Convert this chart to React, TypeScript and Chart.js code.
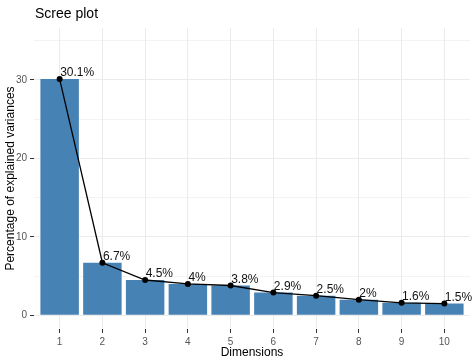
import React, { useEffect, useRef } from "react";
import { Chart, registerables } from "chart.js";

Chart.register(...registerables);

const dimensions = [1, 2, 3, 4, 5, 6, 7, 8, 9, 10];
const variances = [30.1, 6.7, 4.5, 4.0, 3.8, 2.9, 2.5, 2.0, 1.6, 1.5];
const valueLabels = ["30.1%", "6.7%", "4.5%", "4%", "3.8%", "2.9%", "2.5%", "2%", "1.6%", "1.5%"];
const yTicks = [0, 5, 10, 15, 20, 25, 30, 35];
const xTicks = [1, 2, 3, 4, 5, 6, 7, 8, 9, 10];

const FONT = "'Liberation Sans', Arial, Helvetica, sans-serif";

export default function App() {
  const ref = useRef<HTMLCanvasElement>(null);

  useEffect(() => {
    if (!ref.current) return;

    const titlePlugin = {
      id: "screeTitle",
      afterDraw(chart: any) {
        const ctx = chart.ctx;
        ctx.save();
        ctx.font = `14px ${FONT}`;
        ctx.fillStyle = "#000000";
        ctx.textAlign = "left";
        ctx.textBaseline = "middle";
        ctx.fillText("Scree plot", 35, 14);
        ctx.restore();
      },
    };

    const labelPlugin = {
      id: "pointLabels",
      afterDatasetsDraw(chart: any) {
        const meta = chart.getDatasetMeta(1);
        const ctx = chart.ctx;
        ctx.save();
        ctx.font = `12px ${FONT}`;
        ctx.fillStyle = "#111111";
        ctx.textAlign = "left";
        ctx.textBaseline = "alphabetic";
        meta.data.forEach((pt: any, i: number) => {
          ctx.fillText(valueLabels[i], pt.x + 0.5, pt.y - 3);
        });
        ctx.restore();
      },
    };

    const chart = new Chart(ref.current, {
      type: "bar",
      data: {
        datasets: [
          {
            type: "bar",
            data: dimensions.map((d, i) => ({ x: d, y: variances[i] })),
            backgroundColor: "#4682B4",
            borderWidth: 0,
            barPercentage: 0.9,
            categoryPercentage: 1,
            order: 2,
          } as any,
          {
            type: "line",
            data: dimensions.map((d, i) => ({ x: d, y: variances[i] })),
            borderColor: "#000000",
            borderWidth: 1.3,
            pointRadius: 3,
            pointBackgroundColor: "#000000",
            pointBorderColor: "#000000",
            pointBorderWidth: 0,
            tension: 0,
            order: 1,
          } as any,
        ],
      },
      plugins: [titlePlugin, labelPlugin],
      options: {
        animation: false,
        responsive: false,
        maintainAspectRatio: false,
        layout: { padding: { top: 28, right: 3, left: 0, bottom: 0 } },
        plugins: {
          legend: { display: false },
          tooltip: { enabled: false },
          title: { display: false },
        },
        scales: {
          x: {
            type: "linear",
            min: 0.4,
            max: 10.6,
            offset: false,
            afterBuildTicks(scale: any) {
              scale.ticks = xTicks.map((v) => ({ value: v }));
            },
            afterFit(scale: any) {
              scale.height = 33;
            },
            border: { display: false },
            grid: {
              offset: false,
              color: "#ebebeb",
              lineWidth: 1,
              drawTicks: true,
              tickLength: 4,
              tickColor: "#333333",
              tickWidth: 1,
            },
            ticks: {
              color: "#555555",
              font: { size: 10, family: FONT },
              padding: 3,
              maxRotation: 0,
              autoSkip: false,
              callback: (v: any) => String(v),
            },
            title: {
              display: true,
              text: "Dimensions",
              color: "#000000",
              font: { size: 12, family: FONT },
              padding: { top: 0, bottom: 2 },
            },
          },
          y: {
            type: "linear",
            min: -1.74,
            max: 36.6,
            afterBuildTicks(scale: any) {
              scale.ticks = yTicks.map((v) => ({ value: v }));
            },
            afterFit(scale: any) {
              scale.width = 34;
            },
            border: { display: false },
            grid: {
              color: "#ebebeb",
              lineWidth: (c: any) => (c.tick && c.tick.value % 10 === 0 ? 1 : 0.6),
              drawTicks: true,
              tickLength: 4,
              tickColor: (c: any) => (c.tick && c.tick.value % 10 === 0 ? "#333333" : "rgba(0,0,0,0)"),
              tickWidth: 1,
            },
            ticks: {
              color: "#555555",
              font: { size: 10, family: FONT },
              padding: 3,
              autoSkip: false,
              callback: (v: any) => (Number(v) % 10 === 0 ? String(v) : ""),
            },
            title: {
              display: true,
              text: "Percentage of explained variances",
              color: "#000000",
              font: { size: 12, family: FONT },
              padding: { top: 3, bottom: 0 },
            },
          },
        },
      } as any,
    });

    return () => chart.destroy();
  }, []);

  return (
    <div style={{ position: "fixed", left: 0, top: 0, width: 474, height: 362, background: "#ffffff" }}>
      <canvas ref={ref} width={474} height={362} style={{ width: 474, height: 362 }} />
    </div>
  );
}
